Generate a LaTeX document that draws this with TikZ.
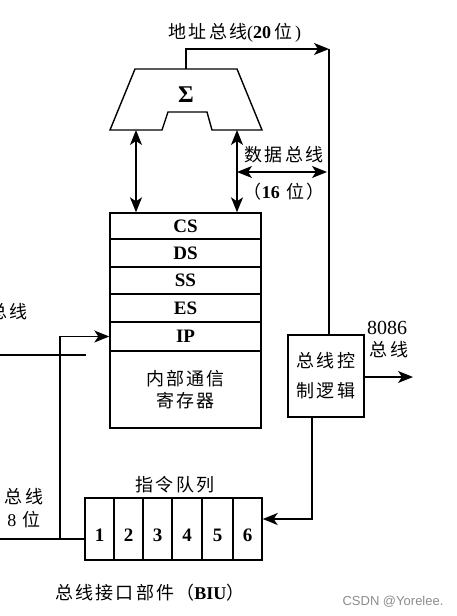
\documentclass[tikz,border=0pt]{standalone}
\usepackage{fontspec}
\setmainfont{Liberation Serif}
\newfontfamily\cjk[LetterSpace=12]{Noto Sans CJK SC}
\newfontfamily\wmfont{Liberation Sans}
\usetikzlibrary{arrows.meta}
\begin{document}
\begin{tikzpicture}[x=1pt,y=-1pt,
  line width=1.4pt,
  tip/.tip={Stealth[length=15pt,width=12pt,inset=4pt]},
  arr/.style={-tip},
  darr/.style={tip-tip},
  reg/.style={draw, minimum width=151pt, inner sep=0pt, font=\fontsize{19}{21}\selectfont\bfseries},
  cell/.style={draw, minimum height=62pt, inner sep=0pt},
  num/.style={inner sep=0pt, font=\fontsize{19}{21}\selectfont\bfseries},
  lbl/.style={inner sep=0pt, align=center, font=\cjk\fontsize{18}{22}\selectfont}
]
\useasboundingbox (0,0) rectangle (456,616);

% adder (trapezoid)
\draw (135,69) -- (237,69) -- (262,130) -- (212,130) -- (207,112) -- (168,112) -- (162,130) -- (110,130) -- cycle;
\coordinate (tzTop) at (186,69);
\coordinate (tzL) at (136,130);
\coordinate (tzR) at (237,130);
\node[inner sep=0pt, font=\fontsize{24}{26}\selectfont\bfseries] (sigma) at (186,95) {Σ};

% segment registers
\node[reg, minimum height=26pt] (cs) at (185.5,226) {CS};
\node[reg, minimum height=28pt] (ds) at (185.5,253) {DS};
\node[reg, minimum height=27pt] (ss) at (185.5,280.5) {SS};
\node[reg, minimum height=28pt] (es) at (185.5,308) {ES};
\node[reg, minimum height=29pt] (ip) at (185.5,336.5) {IP};
\node[draw, minimum width=151pt, minimum height=77pt, inner sep=0pt, lbl] (inr) at (185.5,389.5) {内部通信\\寄存器};

% bus control logic
\node[draw, minimum width=76pt, minimum height=82pt, lbl, font=\cjk\fontsize{18}{30}\selectfont] (bcl) at (326,376) {总线控\\制逻辑};

% instruction queue
\node[cell, minimum width=29pt, label={[num,yshift=-6pt]center:1}] (q1) at (99.5,529) {};
\node[cell, minimum width=29pt, label={[num,yshift=-6pt]center:2}] (q2) at (128.5,529) {};
\node[cell, minimum width=29pt, label={[num,yshift=-6pt]center:3}] (q3) at (157.5,529) {};
\node[cell, minimum width=30pt, label={[num,yshift=-6pt]center:4}] (q4) at (187,529) {};
\node[cell, minimum width=31pt, label={[num,yshift=-6pt]center:5}] (q5) at (217.5,529) {};
\node[cell, minimum width=29pt, label={[num,yshift=-6pt]center:6}] (q6) at (247.5,529) {};

% labels
\node[lbl] (addrlbl) at (235,33) {地址总线{\rmfamily(\textbf{20}\,}位{\rmfamily\,)}};
\node[lbl] (dlbl) at (284,155) {数据总线};
\node[lbl] (dlbl2) at (284,192) {（{\rmfamily\bfseries 16} 位）};
\node[lbl, font=\fontsize{20}{22}\selectfont] (n8086) at (387,328) {8086};
\node[lbl] (n8086b) at (389,350) {总线};
\node[lbl, anchor=east] (lbus) at (28,312) {总线};
\node[lbl] (lbus2) at (24,497) {总线};
\node[lbl] (lbus3) at (24,520) {{\rmfamily 8} 位};
\node[lbl] (qlbl) at (175,485) {指令队列};
\node[lbl] (biu) at (150,593) {总线接口部件（{\rmfamily\bfseries BIU}）};
\node[inner sep=0pt, text=black!45, font=\wmfont\fontsize{13}{15}\selectfont] (wm) at (393,602) {CSDN @Yorelee.};

% connectors
\coordinate (abus) at (329,49);
\draw[arr] (tzTop) |- (abus);
\draw (abus) -- (abus |- bcl.north);
\draw[darr] (tzL) -- (tzL |- cs.north);
\draw[darr] (tzR) -- (tzR |- cs.north);
\coordinate (db1) at (237,172);
\coordinate (db2) at (327,172);
\draw[darr] (db1) -- (db2);

\coordinate (out) at (413,377);
\draw[arr] (bcl.east |- out) -- (out);
\coordinate (bq) at (312,519);
\draw[arr] (bcl.south -| bq) |- (q6.east |- bq);

\coordinate (lb) at (0,539);
\coordinate (jn) at (60,539);
\draw (lb) -- (lb -| q1.west);
\draw[arr] (jn) |- (ip.west);
\coordinate (h1) at (0,355);
\coordinate (h2) at (86,355);
\draw (h1) -- (h2);
\end{tikzpicture}
\end{document}
